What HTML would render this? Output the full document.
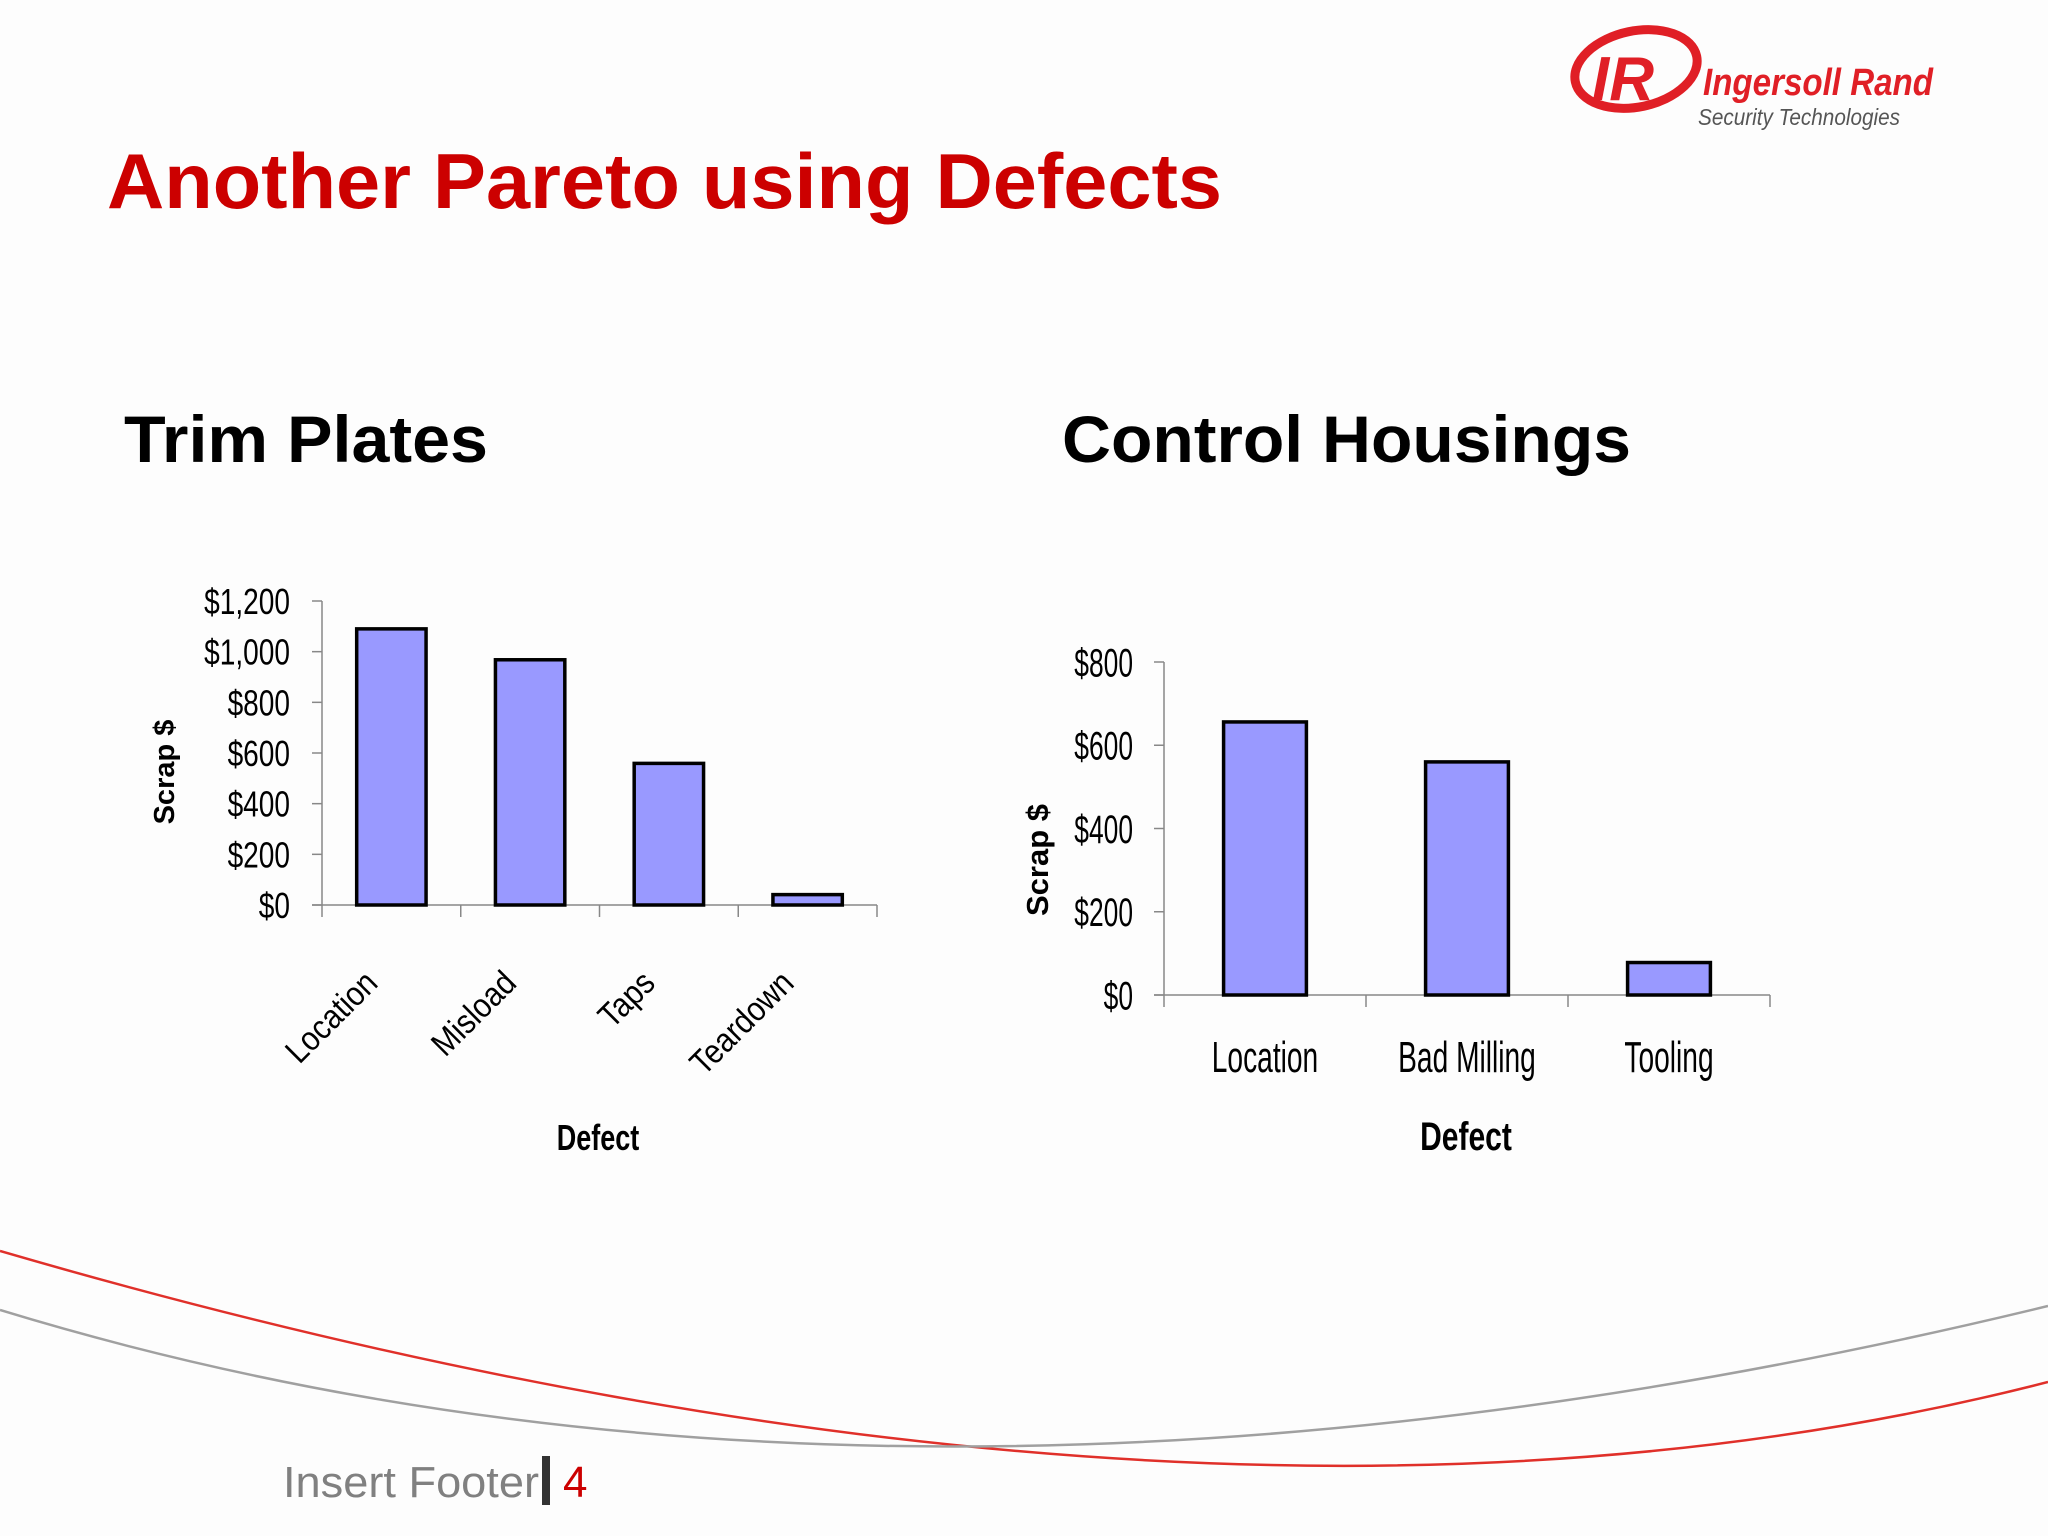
<!DOCTYPE html>
<html><head><meta charset="utf-8"><style>
html,body{margin:0;padding:0;background:#fdfdfd;}
svg{display:block;font-family:"Liberation Sans",sans-serif;}
</style></head><body>
<svg id="root" width="2048" height="1536" viewBox="0 0 2048 1536" xmlns="http://www.w3.org/2000/svg">
<rect width="2048" height="1536" fill="#fdfdfd"/>
<g>
<ellipse cx="1636" cy="69" rx="62" ry="38" fill="none" stroke="#e01f26" stroke-width="9" transform="rotate(-12 1636 69)"/>
<text x="1592" y="100" font-size="62" font-weight="bold" font-style="italic" fill="#e01f26">IR</text>
<text x="1703" y="95" font-size="38" font-weight="bold" font-style="italic" fill="#e01f26" textLength="230" lengthAdjust="spacingAndGlyphs">Ingersoll Rand</text>
<text x="1698" y="125" font-size="23" font-style="italic" fill="#555" textLength="202" lengthAdjust="spacingAndGlyphs">Security Technologies</text>
</g>
<text x="107" y="208" font-size="78" font-weight="bold" fill="#cc0000" textLength="1115" lengthAdjust="spacingAndGlyphs">Another Pareto using Defects</text>
<text x="124" y="462" font-size="66" font-weight="bold" fill="#000" textLength="364" lengthAdjust="spacingAndGlyphs">Trim Plates</text>
<text x="1062" y="462" font-size="66" font-weight="bold" fill="#000" textLength="569" lengthAdjust="spacingAndGlyphs">Control Housings</text>
<path d="M0,1251 Q1200,1600 2048,1382" fill="none" stroke="#e0302a" stroke-width="2.5"/>
<path d="M0,1310 Q900,1585 2048,1306" fill="none" stroke="#a0a0a0" stroke-width="2.5"/>
<text x="283" y="1497" font-size="44" fill="#808080" textLength="256" lengthAdjust="spacingAndGlyphs">Insert Footer</text>
<rect x="542" y="1456" width="8" height="49" fill="#333"/>
<text x="563" y="1497" font-size="44" fill="#cc0000">4</text>
<g id="c1"></g>
<g id="c2"></g>
</svg>
<script>
const cats1 = ["Location", "Misload", "Taps", "Teardown"];
const vals1 = [1090, 968, 559, 41];
const ticks1 = [0, 200, 400, 600, 800, 1000, 1200];
const tickLabels1 = ["$0", "$200", "$400", "$600", "$800", "$1,000", "$1,200"];
const cats2 = ["Location", "Bad Milling", "Tooling"];
const vals2 = [656, 560, 78];
const ticks2 = [0, 200, 400, 600, 800];
const tickLabels2 = ["$0", "$200", "$400", "$600", "$800"];

const NS = "http://www.w3.org/2000/svg";
function mk(tag, attrs, parent, txt) {
  const e = document.createElementNS(NS, tag);
  for (const k in attrs) e.setAttribute(k, attrs[k]);
  if (txt !== undefined) e.textContent = txt;
  parent.appendChild(e);
  return e;
}
function drawChart(g, cfg, cats, vals, ticks, labels) {
  const yScale = v => cfg.y0 - (v - cfg.vmin) / (cfg.vmax - cfg.vmin) * (cfg.y0 - cfg.y1);
  const band = (cfg.x1 - cfg.x0) / cats.length;
  const xc = i => cfg.x0 + band * (i + 0.5);
  const ax = mk("line", {x1: cfg.x0, y1: cfg.y1, x2: cfg.x0, y2: cfg.y0, stroke: "#888", "stroke-width": 1.5}, g);
  
  
  const bx = mk("line", {x1: cfg.x0 - 10, y1: cfg.y0, x2: cfg.x1, y2: cfg.y0, stroke: "#888", "stroke-width": 1.5}, g);
  
  
  ticks.forEach((t, i) => {
    const y = yScale(t);
    const tk = mk("line", {x1: cfg.x0 - 10, y1: y, x2: cfg.x0, y2: y, stroke: "#888", "stroke-width": 1.5}, g);
    
    
    const tl = mk("text", {x: cfg.labelRight, y: y + cfg.tickFont * 0.36, "text-anchor": "end", "font-size": cfg.tickFont, fill: "#000", transform: `translate(${cfg.labelRight},0) scale(${cfg.tickSx},1) translate(${-cfg.labelRight},0)`}, g, labels[i]);
    
    
  });
  for (let i = 0; i <= cats.length; i++) {
    const x = cfg.x0 + band * i;
    const ct = mk("line", {x1: x, y1: cfg.y0, x2: x, y2: cfg.y0 + 12, stroke: "#888", "stroke-width": 1.5}, g);
    
    
  }
  cats.forEach((c, i) => {
    const w = band * cfg.barFrac;
    const top = yScale(vals[i]);
    const r = mk("rect", {x: xc(i) - w / 2, y: top, width: w, height: cfg.y0 - top, fill: "#9999ff", stroke: "#000", "stroke-width": 3.5}, g);
    
    
    let t;
    if (cfg.rotate) {
      const ax2 = xc(i) - 12, ay = cfg.catY;
      t = mk("text", {x: ax2, y: ay, "text-anchor": "end", "font-size": cfg.catFont, fill: "#000", transform: `rotate(-45 ${ax2} ${ay}) translate(${ax2},0) scale(0.88,1) translate(${-ax2},0)`}, g, c);
    } else {
      t = mk("text", {x: xc(i), y: cfg.catY, "text-anchor": "middle", "font-size": cfg.catFont, fill: "#000", transform: `translate(${xc(i)},0) scale(0.64,1) translate(${-xc(i)},0)`}, g, c);
    }
    
    
  });
  const yt = mk("text", {x: cfg.yTitleX, y: cfg.yTitleY, "text-anchor": "middle", "font-size": cfg.yTitleFont, "font-weight": "bold", fill: "#000", transform: `rotate(-90 ${cfg.yTitleX} ${cfg.yTitleY})`}, g, "Scrap $");
  
  
  const xt = mk("text", {x: cfg.xTitleX, y: cfg.xTitleY, "text-anchor": "middle", "font-size": cfg.titleFont, "font-weight": "bold", fill: "#000", transform: `translate(${cfg.xTitleX},0) scale(0.75,1) translate(${-cfg.xTitleX},0)`}, g, "Defect");
  
  
}
drawChart(document.getElementById("c1"),
  {x0: 322, x1: 877, y0: 905, y1: 601, vmin: 0, vmax: 1200, barFrac: 0.5, labelRight: 290, tickFont: 36, tickSx: 0.78,
   rotate: true, catY: 985, catFont: 34, yTitleX: 174, yTitleY: 772, yTitleFont: 29, titleFont: 36, xTitleX: 598, xTitleY: 1150},
  cats1, vals1, ticks1, tickLabels1);
drawChart(document.getElementById("c2"),
  {x0: 1164, x1: 1770, y0: 995, y1: 662, vmin: 0, vmax: 800, barFrac: 0.41, labelRight: 1133, tickFont: 40, tickSx: 0.66,
   rotate: false, catY: 1072, catFont: 44, yTitleX: 1048, yTitleY: 860, yTitleFont: 31, titleFont: 40, xTitleX: 1466, xTitleY: 1150},
  cats2, vals2, ticks2, tickLabels2);
</script>
</body></html>
